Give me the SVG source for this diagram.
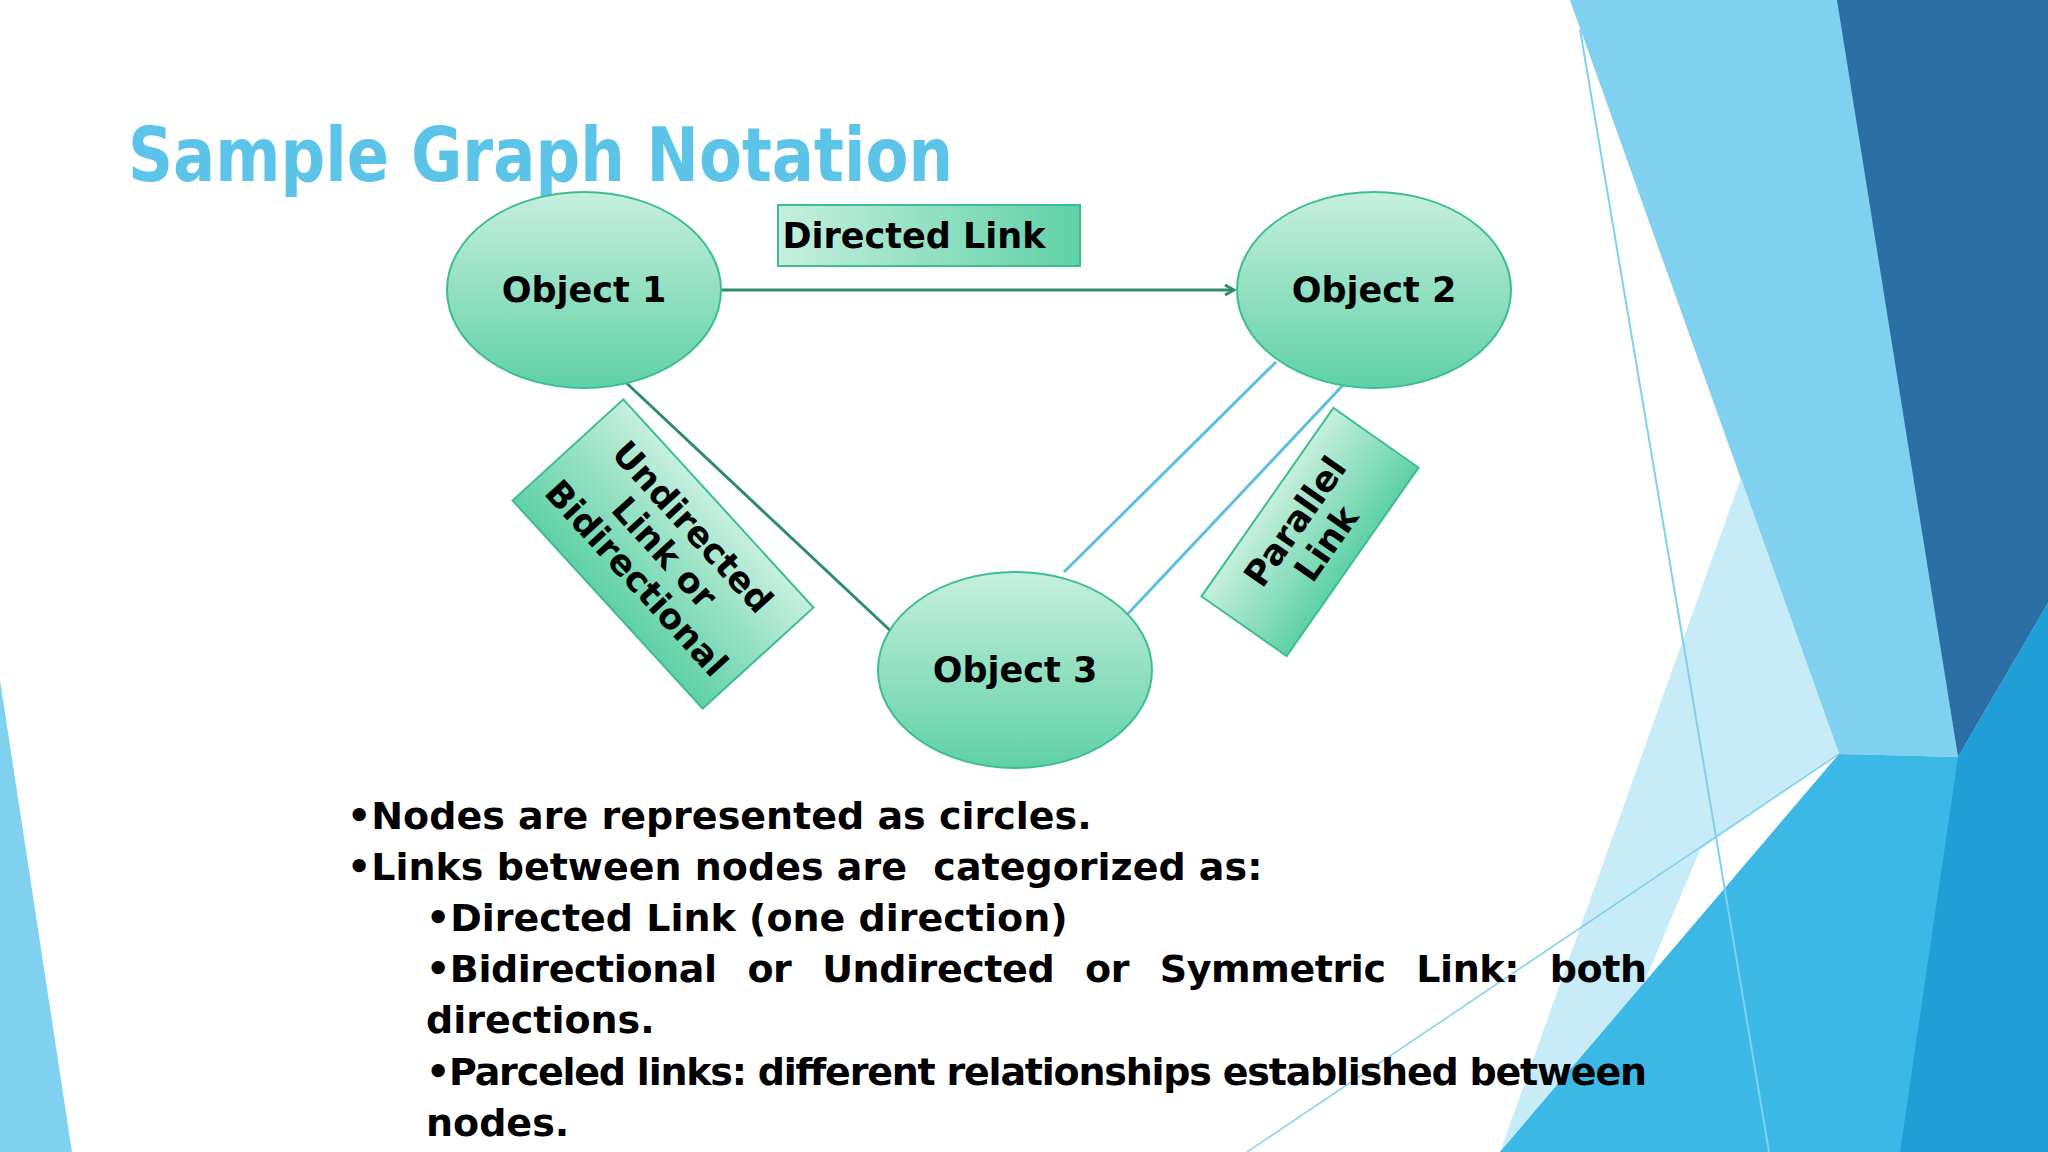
<svg xmlns="http://www.w3.org/2000/svg" width="2048" height="1152" viewBox="0 0 2048 1152">
<defs>
<linearGradient id="g" x1="0" y1="0" x2="0" y2="1"><stop offset="0" stop-color="#c6efde"/><stop offset="1" stop-color="#5fd1a6"/></linearGradient>
<linearGradient id="gb" x1="0" y1="0" x2="1" y2="0"><stop offset="0" stop-color="#c6efde"/><stop offset="1" stop-color="#5fd1a6"/></linearGradient>
<marker id="ar" markerWidth="12" markerHeight="12" refX="10" refY="6" orient="auto" markerUnits="userSpaceOnUse"><path d="M1,1 L10,6 L1,11" fill="none" stroke="#2e8b6e" stroke-width="3"/></marker>
<style>
.node{fill:url(#g);stroke:#3cbf8c;stroke-width:2}
.box{stroke:#3cbf8c;stroke-width:2}
.nt{font-family:"DejaVu Sans",sans-serif;font-weight:bold;font-size:35px;fill:#000}
.bt{font-family:"DejaVu Sans",sans-serif;font-weight:bold;font-size:38px;fill:#000}
</style>
</defs>
<rect width="2048" height="1152" fill="#fff"/>
<g id="decor">
<polygon points="0,680 0,1152 72,1152" fill="#7fd1ef"/>
<polygon points="1570,0 1840,0 1958,757 1839,754" fill="#7fd1ef"/>
<polygon points="1741,478 1839,754 1700,850 1573,1152 1500,1152" fill="#c8ebf8"/>
<polygon points="1837,0 2048,0 2048,603 1958,757" fill="#2c6fa5"/>
<polygon points="1839,754 1958,757 2048,603 2048,1152 1500,1152" fill="#3cb8e6"/>
<polygon points="1958,757 2048,603 2048,1152 1900,1152" fill="#1f9fd5"/>
<line x1="1580" y1="29" x2="1769" y2="1152" stroke="#7fd1ef" stroke-width="2"/>
<line x1="1247" y1="1152" x2="1839" y2="754" stroke="#7fd1ef" stroke-width="1.5"/>
</g>
<text x="128" y="181" font-family="DejaVu Sans,sans-serif" font-weight="bold" font-size="74" fill="#5bc4e8" textLength="825" lengthAdjust="spacingAndGlyphs">Sample Graph Notation</text>
<g id="connectors">
<line x1="721" y1="290" x2="1234" y2="290" stroke="#2e8b6e" stroke-width="3" marker-end="url(#ar)"/>
<line x1="619" y1="376" x2="895" y2="635" stroke="#2e8b6e" stroke-width="3"/>
<line x1="1276" y1="362" x2="1064" y2="572" stroke="#5bc0e0" stroke-width="3"/>
<line x1="1345" y1="383" x2="1123" y2="619" stroke="#5bc0e0" stroke-width="3"/>
</g>
<g id="obj1"><ellipse class="node" cx="584" cy="290" rx="137" ry="98"/><text class="nt" x="584" y="302" text-anchor="middle">Object 1</text></g>
<g id="obj2"><ellipse class="node" cx="1374" cy="290" rx="137" ry="98"/><text class="nt" x="1374" y="302" text-anchor="middle">Object 2</text></g>
<g id="obj3"><ellipse class="node" cx="1015" cy="670" rx="137" ry="98"/><text class="nt" x="1015" y="682" text-anchor="middle">Object 3</text></g>
<g id="directed"><rect class="box" x="778" y="205" width="302" height="61" fill="url(#gb)"/><text class="nt" x="914" y="248" text-anchor="middle" font-size="34">Directed Link</text></g>
<g id="undirected" transform="translate(663,554) rotate(47.6)">
<rect class="box" x="-141" y="-75" width="282" height="150" fill="url(#g)"/>
<text class="nt" text-anchor="middle" font-size="33"><tspan x="0" y="-28">Undirected</tspan><tspan x="0" y="10">Link or</tspan><tspan x="0" y="48">Bidirectional</tspan></text>
</g>
<g id="parallel" transform="translate(1310,532) rotate(-55)">
<rect class="box" x="-115" y="-52" width="230" height="104" fill="url(#g)"/>
<text class="nt" text-anchor="middle" font-size="33"><tspan x="0" y="-6">Parallel</tspan><tspan x="0" y="32">Link</tspan></text>
</g>
<g id="body" class="bt">
<text class="bt" x="347" y="829">•Nodes are represented as circles.</text>
<text class="bt" x="347" y="880" xml:space="preserve">•Links between nodes are  categorized as:</text>
<text class="bt" x="426" y="931">•Directed Link (one direction)</text>
<text class="bt" x="426" y="982" textLength="1221" lengthAdjust="spacing" word-spacing="18">•Bidirectional or Undirected or Symmetric Link:  both</text>
<text class="bt" x="426" y="1033">directions.</text>
<text class="bt" x="426" y="1085" textLength="1221" lengthAdjust="spacing">•Parceled links: different relationships established between</text>
<text class="bt" x="426" y="1136">nodes.</text>
</g>
</svg>
